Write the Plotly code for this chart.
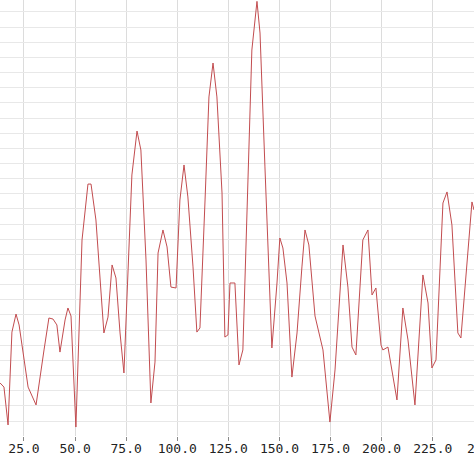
import plotly.graph_objects as go

# x positions of the series (data units)
x_vals = [13.3, 15.2, 17.2, 19.1, 21.1, 22.6, 27.0, 30.9, 34.8, 37.2, 39.2, 41.1, 42.6, 45.1,
          46.5, 48.0, 50.4, 53.4, 56.3, 57.8, 60.2, 62.2, 64.1, 66.1, 68.1, 70.0, 72.0, 73.9,
          75.9, 77.8, 80.3, 82.2, 84.7, 87.1, 89.1, 90.6, 93.0, 95.0, 96.9, 99.4, 101.3, 103.3,
          105.2, 107.7, 109.6, 111.1, 113.6, 115.5, 117.5, 119.4, 121.9, 123.3, 124.8, 125.8,
          128.2, 130.2, 132.1, 134.6, 136.5, 139.0, 140.5, 142.9, 146.3, 148.8, 150.2, 151.7,
          153.7, 156.1, 158.6, 161.0, 162.5, 164.4, 167.4, 171.3, 174.7, 177.2, 181.1, 183.5,
          185.5, 187.4, 190.8, 193.3, 195.3, 197.2, 199.7, 200.6, 203.1, 207.5, 210.4, 212.9,
          216.3, 220.2, 222.7, 224.6, 226.6, 230.0, 232.0, 234.4, 237.3, 238.8, 244.2, 245.2]

# series values
y_vals = [2.51, 2.24, -0.26, 5.87, 7.06, 6.34, 2.24, 1.06, 4.69, 6.80, 6.73, 6.34, 4.55, 6.67,
          7.46, 6.93, -0.40, 11.95, 15.64, 15.64, 13.27, 9.31, 5.81, 6.86, 10.30, 9.44, 5.81, 3.17,
          10.43, 16.24, 19.14, 17.89, 10.63, 1.19, 3.89, 11.09, 12.61, 11.49, 8.84, 8.78, 14.59, 16.90,
          14.79, 10.17, 5.87, 6.14, 14.59, 21.39, 23.63, 21.39, 15.05, 5.54, 5.68, 9.11,
          9.11, 3.70, 4.69, 16.77, 24.49, 27.70, 25.61, 16.77, 4.82, 9.11, 12.08, 11.42,
          9.11, 2.90, 5.81, 10.17, 12.61, 11.62, 6.93, 4.69, -0.07, 3.37, 11.62, 8.84,
          4.88, 4.36, 11.95, 12.61, 8.32, 8.78, 5.02, 4.69, 4.88, 1.39, 7.46, 5.35,
          1.06, 9.64, 7.79, 3.50, 4.03, 14.39, 15.12, 12.94, 5.81, 5.48, 14.46, 13.93]

x_ticks = [25, 50, 75, 100, 125, 150, 175, 200, 225]
extra_tick = 250
x_range = [13.26, 245.2]
y_range = [-0.99, 27.79]

fig = go.Figure()
fig.add_trace(go.Scatter(x=x_vals, y=y_vals, mode="lines",
                         line=dict(color="#c24c4f", width=1), hoverinfo="skip"))

fig.update_layout(
    width=474, height=474,
    margin=dict(l=0, r=0, t=0, b=38),
    paper_bgcolor="white", plot_bgcolor="white",
    showlegend=False,
    font=dict(family="DejaVu Sans Mono", size=13, color="#222"),
    xaxis=dict(range=x_range, tickvals=x_ticks, tickformat=".1f",
               showgrid=True, gridcolor="#dcdcdc", gridwidth=1,
               ticks="outside", ticklen=4, tickcolor="#888", showline=False,
               zeroline=False, ticklabelstandoff=-4, automargin=False),
    yaxis=dict(range=y_range, tick0=0, dtick=1, showticklabels=False,
               showgrid=True, gridcolor="#e8e8e8", gridwidth=1,
               zeroline=False, showline=False, ticks=""),
)

# partially visible label at the right edge
frac = (extra_tick - x_range[0]) / (x_range[1] - x_range[0])
fig.add_annotation(x=frac, xref="paper", y=0, yref="paper", yshift=-3, xshift=3,
                   text=f"{extra_tick:.1f}", showarrow=False, yanchor="top",
                   xanchor="center", font=dict(family="DejaVu Sans Mono", size=13, color="#222"))

fig.write_html("out.html", config={"displayModeBar": False, "staticPlot": True},
               post_script="document.body.style.margin='0';document.body.style.overflow='hidden';")
